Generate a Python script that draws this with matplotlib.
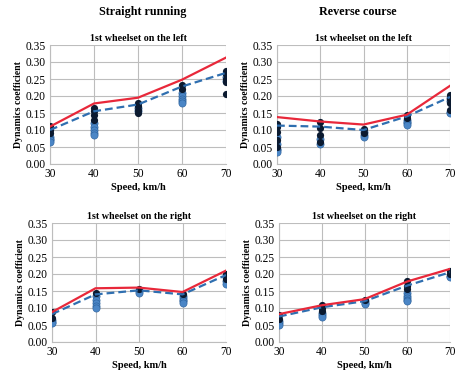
import matplotlib
matplotlib.use("Agg")
import matplotlib.pyplot as plt
import numpy as np

plt.rcParams['font.family'] = ['Liberation Serif', 'DejaVu Serif']

speeds = [30, 40, 50, 60, 70]

# Straight running, left
sl_red = [0.110, 0.178, 0.195, 0.248, 0.313]
sl_blue = [0.100, 0.155, 0.175, 0.228, 0.268]
sl_dark_pts = {30: [0.112, 0.100, 0.090], 40: [0.165, 0.155, 0.145, 0.130], 50: [0.180, 0.170, 0.160, 0.150],
               60: [0.232, 0.220], 70: [0.275, 0.265, 0.250, 0.240, 0.205]}
sl_light_pts = {30: [0.080, 0.075, 0.070, 0.065], 40: [0.120, 0.110, 0.100, 0.090, 0.085], 50: [0.165, 0.155],
                60: [0.210, 0.200, 0.190, 0.185, 0.180], 70: [0.255, 0.245]}

# Reverse course, left
rl_red = [0.138, 0.125, 0.116, 0.145, 0.230]
rl_blue = [0.113, 0.110, 0.100, 0.140, 0.197]
rl_dark_pts = {30: [0.117, 0.110, 0.093, 0.070, 0.050], 40: [0.123, 0.105, 0.085, 0.065], 50: [0.103, 0.090],
               60: [0.143, 0.135], 70: [0.203, 0.190, 0.180, 0.158]}
rl_light_pts = {30: [0.080, 0.060, 0.045, 0.040, 0.035], 40: [0.075, 0.060], 50: [0.095, 0.085, 0.080],
                60: [0.130, 0.125, 0.120, 0.115], 70: [0.195, 0.185, 0.152, 0.150]}

# Straight running, right
sr_red = [0.088, 0.158, 0.160, 0.147, 0.210]
sr_blue = [0.082, 0.140, 0.152, 0.140, 0.197]
sr_dark_pts = {30: [0.088, 0.072], 40: [0.143], 50: [0.155], 60: [0.142], 70: [0.200, 0.185]}
sr_light_pts = {30: [0.065, 0.060, 0.055], 40: [0.135, 0.125, 0.115, 0.105, 0.100], 50: [0.150, 0.145],
                60: [0.135, 0.130, 0.125, 0.120, 0.115], 70: [0.190, 0.178, 0.172]}

# Reverse course, right
rr_red = [0.082, 0.108, 0.126, 0.178, 0.215]
rr_blue = [0.075, 0.102, 0.120, 0.166, 0.205]
rr_dark_pts = {30: [0.078, 0.068], 40: [0.110, 0.100, 0.092], 50: [0.125], 60: [0.180, 0.165, 0.155], 70: [0.210, 0.200]}
rr_light_pts = {30: [0.062, 0.056, 0.050], 40: [0.085, 0.080, 0.075], 50: [0.120, 0.115, 0.112],
                60: [0.145, 0.135, 0.130, 0.125, 0.120], 70: [0.195, 0.190]}

W, H = 474, 379
fig = plt.figure(figsize=(W / 100, H / 100), dpi=100)

RED = '#e8283a'
BLUE = '#2f6fb0'
LIGHT = '#4b86c6'
DARK = '#0b1a30'

def px_axes(l, r, t, b):
    return fig.add_axes([l / W, 1 - b / H, (r - l) / W, (b - t) / H])

panels = [
    (px_axes(50, 226, 45, 164), "1st wheelset on the left", sl_red, sl_blue, sl_dark_pts, sl_light_pts),
    (px_axes(277, 450, 45, 164), "1st wheelset on the left", rl_red, rl_blue, rl_dark_pts, rl_light_pts),
    (px_axes(52, 226, 223, 342), "1st wheelset on the right", sr_red, sr_blue, sr_dark_pts, sr_light_pts),
    (px_axes(279, 450, 223, 342), "1st wheelset on the right", rr_red, rr_blue, rr_dark_pts, rr_light_pts),
]

for ax, title, red, blue, dark, light in panels:
    for sp in speeds:
        ys = light.get(sp, [])
        ax.scatter([sp] * len(ys), ys, s=27, color=LIGHT, edgecolors='#2a5f99', linewidths=0.4, zorder=3)
    for sp in speeds:
        ys = dark.get(sp, [])
        ax.scatter([sp] * len(ys), ys, s=27, color=DARK, linewidths=0, zorder=4)
    ax.plot(speeds, blue, color=BLUE, lw=1.6, ls=(0, (3.5, 1.8)), zorder=5)
    ax.plot(speeds, red, color=RED, lw=1.6, zorder=6)
    ax.set_xlim(30, 70)
    ax.set_ylim(0, 0.35)
    ax.set_xticks(speeds)
    ax.set_yticks(np.arange(0, 0.351, 0.05))
    ax.set_yticklabels([f"{v:.2f}" for v in np.arange(0, 0.351, 0.05)])
    ax.grid(True, color='#bdbdbd', lw=0.8)
    ax.set_axisbelow(True)
    for s in ['top', 'right']:
        ax.spines[s].set_visible(False)
    for s in ['left', 'bottom']:
        ax.spines[s].set_color('#bdbdbd')
        ax.spines[s].set_linewidth(0.8)
    ax.tick_params(axis='both', labelsize=8.3, length=0, pad=3)
    ax.set_title(title, fontsize=7.2, fontweight='bold', pad=3)
    ax.set_ylabel("Dynamics coefficient", fontsize=7, fontweight='bold', labelpad=2)
    ax.set_xlabel("Speed, km/h", fontsize=7.5, fontweight='bold', labelpad=2)

fig.text(143 / W, 1 - 12 / H, "Straight running", ha='center', va='center', fontsize=8.7, fontweight='bold')
fig.text(358 / W, 1 - 12 / H, "Reverse course", ha='center', va='center', fontsize=8.7, fontweight='bold')

fig.savefig("out.png", dpi=100)
